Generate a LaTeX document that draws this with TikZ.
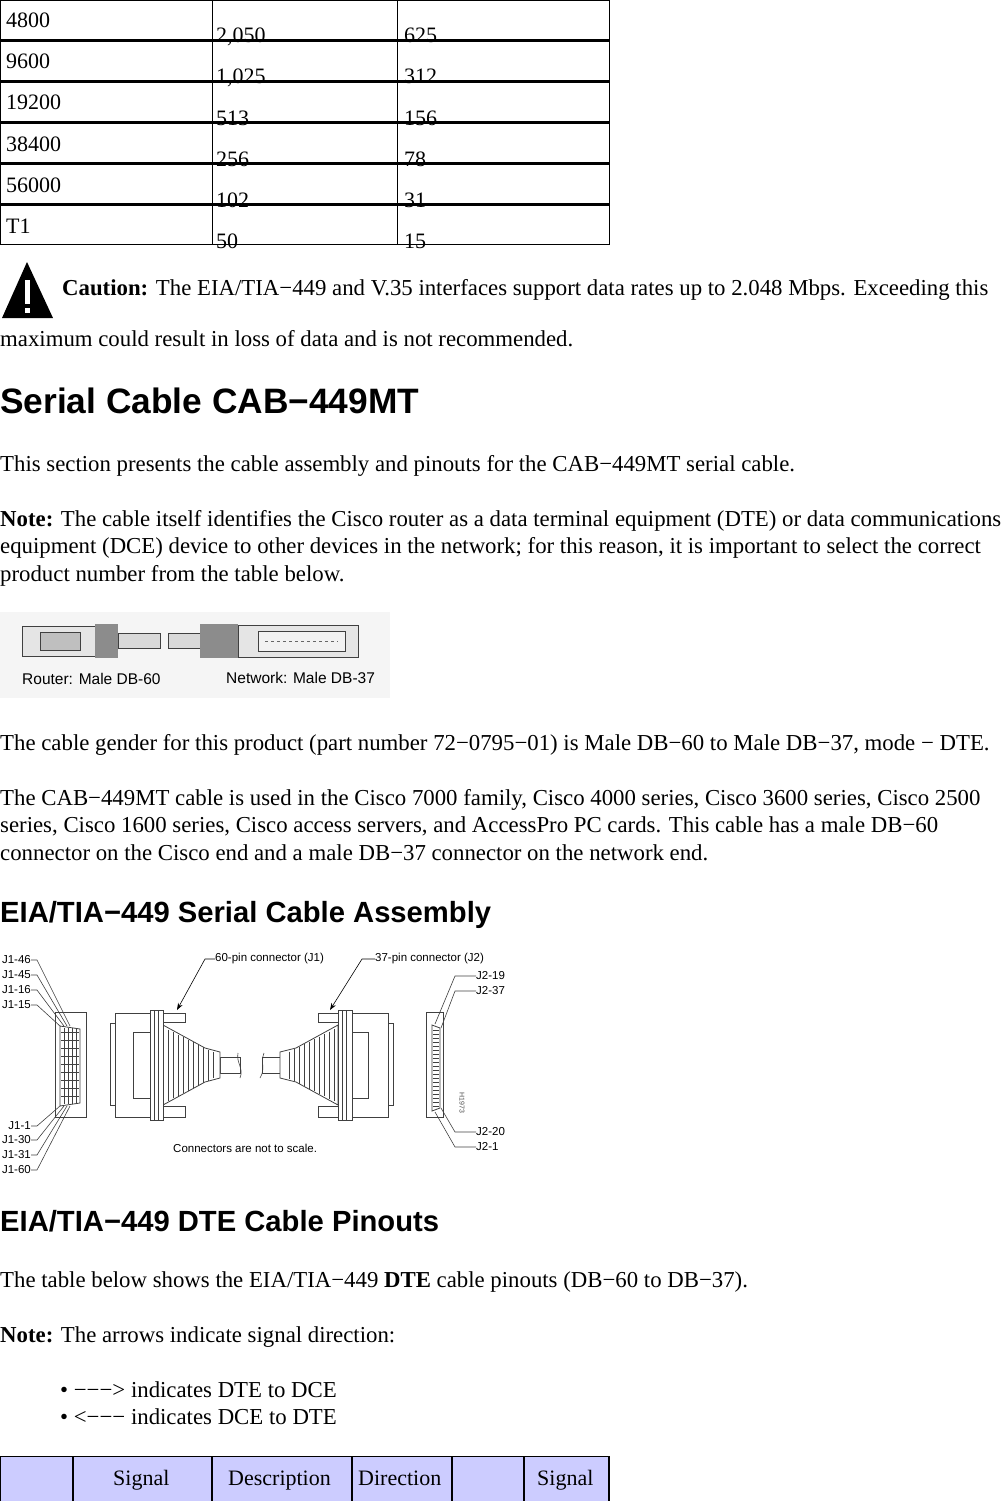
\documentclass[tikz,border=0pt]{standalone}
\usepackage{fontspec}
\setmainfont{Liberation Serif}
\newfontfamily\hsans{Liberation Sans}
\usetikzlibrary{arrows.meta}
\begin{document}
\begin{tikzpicture}[x=1pt,y=-1pt,
  tx/.style={anchor=base west,inner sep=0,font=\fontsize{22.8}{25}\selectfont},
  hd/.style={anchor=base west,inner sep=0,font=\hsans\bfseries\fontsize{35.3}{38}\selectfont},
  hd2/.style={anchor=base west,inner sep=0,font=\hsans\bfseries\fontsize{29.2}{32}\selectfont},
  fl/.style={anchor=west,inner sep=0,font=\hsans\fontsize{11.5}{13}\selectfont},
  cell/.style={anchor=base west,inner sep=0,font=\fontsize{22}{24}\selectfont},
  ln/.style={draw=black!75,line width=0.6pt},
  lf/.style={draw=black!75,fill=white,line width=0.8pt}]
\useasboundingbox (0,0) rectangle (1003,1501);
% top table
\foreach \y in {0,40.5,81.5,122.5,163.5,204.5}{\draw[line width=2.5pt] (0,\y)--(609,\y);}
\draw[line width=1pt] (0,0.5) rectangle (609,244);
\draw[line width=1pt] (212,0)--(212,244) (397,0)--(397,244);
\foreach \a/\b/\c [count=\i from 0] in {4800/2{,}050/625,9600/1{,}025/312,19200/513/156,38400/256/78,56000/102/31,T1/50/15}{
  \node[cell] (r\i a) at (6,{28+\i*41}) {\a};
  \node[cell] (r\i b) at (216,{43+\i*41}) {\b};
  \node[cell] (r\i c) at (404,{43+\i*41}) {\c};
}
% caution
\fill[black] (27,262) -- (53,318) -- (2,318) -- cycle;
\fill[white] (24.5,280) rectangle (29.5,304);
\fill[white] (24.5,308) rectangle (29.5,313);
\node[tx] (caut) at (62,295) {\textbf{Caution:} The EIA/TIA−449 and V.35 interfaces support data rates up to 2.048 Mbps. Exceeding this};
\node[tx] (caut2) at (0,346) {maximum could result in loss of data and is not recommended.};
\node[hd] (h1) at (0,413) {Serial Cable CAB−449MT};
\node[tx] (p1) at (0,471) {This section presents the cable assembly and pinouts for the CAB−449MT serial cable.};
\node[tx] (n1) at (0,526) {\textbf{Note:} The cable itself identifies the Cisco router as a data terminal equipment (DTE) or data communications};
\node[tx] (n2) at (0,553) {equipment (DCE) device to other devices in the network; for this reason, it is important to select the correct};
\node[tx] (n3) at (0,581) {product number from the table below.};
% photo
\fill[black!4] (0,612) rectangle (390,698);
\draw[lf,fill=black!10] (22,626) rectangle (95,656);
\draw[lf,fill=black!25] (40,632) rectangle (80,650);
\fill[black!45] (95,624) rectangle (118,658);
\draw[lf,fill=black!15] (118,633) rectangle (160,648);
\draw[lf,fill=black!15] (168,633) rectangle (200,648);
\fill[black!45] (200,624) rectangle (238,658);
\draw[lf,fill=black!10] (238,625) rectangle (358,657);
\draw[lf,fill=black!5] (258,631) rectangle (345,651);
\draw[black!60,dashed] (265,641)--(338,641);
\node[anchor=base west,inner sep=0,font=\hsans\fontsize{15.5}{17}\selectfont] (rl) at (22,684) {Router: Male DB-60};
\node[anchor=base west,inner sep=0,font=\hsans\fontsize{15.5}{17}\selectfont] (nl) at (226,683) {Network: Male DB-37};
\node[tx] (p2) at (0,750) {The cable gender for this product (part number 72−0795−01) is Male DB−60 to Male DB−37, mode − DTE.};
\node[tx] (p3) at (0,805) {The CAB−449MT cable is used in the Cisco 7000 family, Cisco 4000 series, Cisco 3600 series, Cisco 2500};
\node[tx] (p4) at (0,832) {series, Cisco 1600 series, Cisco access servers, and AccessPro PC cards. This cable has a male DB−60};
\node[tx] (p5) at (0,860) {connector on the Cisco end and a male DB−37 connector on the network end.};
\node[hd2] (h2) at (0,922) {EIA/TIA−449 Serial Cable Assembly};
% assembly figure
\draw[lf] (55,1012) rectangle (86,1117);
\draw[lf] (60,1026) -- (80,1029) -- (80,1103) -- (60,1106) -- cycle;
\foreach \yy in {1032,1040,...,1100}{\draw[ln,line width=0.3pt] (61,\yy)--(79,\yy);}
\foreach \xx in {64,68,72,76}{\draw[ln,line width=0.3pt] (\xx,1028)--(\xx,1104);}
\foreach \l/\yy/\px in {J1-46/960/70,J1-45/975/67,J1-16/990/64,J1-15/1005/60}{
  \node[fl,anchor=east] (\l) at (31,\yy) {\l};
  \draw[ln] (\l.east) -- (37,\yy) -- (\px,1026);}
\foreach \l/\yy/\px in {J1-1/1126/60,J1-30/1140/64,J1-31/1155/67,J1-60/1170/70}{
  \node[fl,anchor=east] (\l) at (31,\yy) {\l};
  \draw[ln] (\l.east) -- (37,\yy) -- (\px,1106);}
% left plug
\draw[lf] (110,1023) rectangle (115,1105);
\draw[lf] (115,1013) rectangle (150,1117);
\draw[lf] (133,1032) rectangle (150,1098);
\draw[lf] (163,1013) rectangle (185,1022);
\draw[lf] (163,1106) rectangle (185,1117);
\draw[lf] (220,1057) rectangle (240,1073);
\draw[lf] (163,1025) -- (205,1048) -- (220,1052) -- (220,1078) -- (205,1082) -- (163,1105) -- cycle;
\foreach \xx in {168,173,...,213}{\draw[ln,line width=0.3pt] (\xx,{1027+(\xx-163)*0.5})--(\xx,{1103-(\xx-163)*0.5});}
\draw[lf] (150,1010) rectangle (163,1120);
\draw[ln] (154,1010)--(154,1120) (158,1010)--(158,1120);
\draw[ln] (238,1053) .. controls (236,1063) and (244,1068) .. (240,1078);
% right plug
\draw[lf] (262,1057) rectangle (282,1073);
\draw[ln] (264,1053) .. controls (260,1063) and (266,1068) .. (260,1078);
\draw[lf] (338,1025) -- (296,1048) -- (280,1052) -- (280,1078) -- (296,1082) -- (338,1105) -- cycle;
\foreach \xx in {289,294,...,334}{\draw[ln,line width=0.3pt] (\xx,{1027+(338-\xx)*0.5})--(\xx,{1103-(338-\xx)*0.5});}
\draw[lf] (318,1013) rectangle (338,1022);
\draw[lf] (318,1106) rectangle (338,1117);
\draw[lf] (338,1010) rectangle (352,1120);
\draw[ln] (342,1010)--(342,1120) (346,1010)--(346,1120);
\draw[lf] (352,1013) rectangle (388,1117);
\draw[lf] (352,1032) rectangle (368,1098);
\draw[lf] (388,1023) rectangle (393,1105);
\node[fl] (c60) at (215,959) {60-pin connector (J1)};
\coordinate (c60t) at (177,1010);
\draw[ln,-{Stealth[length=7pt,width=5pt]},black] (c60.west) -- (205,959) -- (c60t);
\node[fl] (c37) at (375,959) {37-pin connector (J2)};
\coordinate (c37t) at (330,1010);
\draw[ln,-{Stealth[length=7pt,width=5pt]},black] (c37.west) -- (362,959) -- (c37t);
\node[fl] (nts) at (173,1148) {Connectors are not to scale.};
% right plate
\draw[lf] (426,1012) rectangle (443,1117);
\draw[lf] (432,1025) -- (440,1028) -- (440,1108) -- (432,1111) -- cycle;
\foreach \yy in {1030,1034,...,1106}{\draw[ln,line width=0.3pt] (433,\yy)--(439,\yy);}
\foreach \l/\yy/\px/\py in {J2-19/976/435/1024,J2-37/991/441/1028}{
  \node[fl] (\l) at (476,\yy) {\l};
  \draw[ln] (\l.west) -- (455,\yy) -- (\px,\py);}
\foreach \l/\yy/\px/\py in {J2-20/1132/441/1108,J2-1/1147/435/1112}{
  \node[fl] (\l) at (476,\yy) {\l};
  \draw[ln] (\l.west) -- (455,\yy) -- (\px,\py);}
\node[font=\hsans\fontsize{7}{8}\selectfont,rotate=-90,inner sep=0,text=black!70] (hid) at (462,1103) {H1973};
\node[hd2] (h3) at (0,1231) {EIA/TIA−449 DTE Cable Pinouts};
\node[tx] (p6) at (0,1287) {The table below shows the EIA/TIA−449 \textbf{DTE} cable pinouts (DB−60 to DB−37).};
\node[tx] (n4) at (0,1342) {\textbf{Note:} The arrows indicate signal direction:};
\node[tx] (b1) at (60,1397) {• −−−> indicates DTE to DCE};
\node[tx] (b2) at (60,1424) {• <−−− indicates DCE to DTE};
% bottom table header
\fill[blue!20] (0,1456) rectangle (609,1501);
\draw[line width=1pt] (0,1456) -- (609,1456);
\draw[line width=2pt] (0,1456) -- (0,1501);
\foreach \xx in {73,212,352,452,524,609}{\draw[line width=2pt] (\xx,1456)--(\xx,1501);}
\node[cell] (t1) at (113,1485) {Signal};
\node[cell] (t2) at (228,1485) {Description};
\node[cell] (t3) at (358,1485) {Direction};
\node[cell] (t4) at (537,1485) {Signal};
\end{tikzpicture}
\end{document}
